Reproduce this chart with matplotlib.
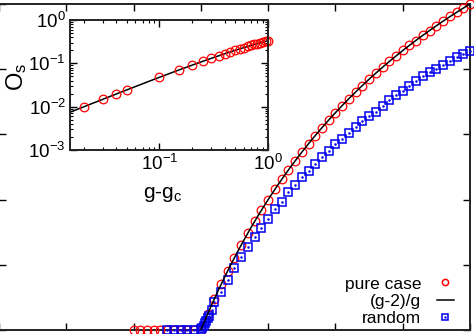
import numpy as np
import matplotlib
matplotlib.use("Agg")
import matplotlib.pyplot as plt
from matplotlib.lines import Line2D
from matplotlib.legend_handler import HandlerTuple

plt.rcParams["font.family"] = ["Liberation Sans", "DejaVu Sans"]
plt.rcParams["mathtext.fontset"] = "custom"
plt.rcParams["mathtext.rm"] = "Liberation Sans"
plt.rcParams["mathtext.it"] = "Liberation Sans:italic"

# order parameter of the pure chain
g_pure = [1.50, 1.55, 1.60, 1.65, 1.70, 1.75, 1.80, 1.85, 1.90, 1.95, 2.00,
          2.05, 2.10, 2.15, 2.20, 2.25, 2.30, 2.35, 2.40, 2.45, 2.50,
          2.55, 2.60, 2.65, 2.70, 2.75, 2.80, 2.85, 2.90, 2.95, 3.00,
          3.05, 3.10, 3.15, 3.20, 3.25, 3.30, 3.35, 3.40, 3.45, 3.50,
          3.55, 3.60, 3.65, 3.70, 3.75, 3.80, 3.85, 3.90, 3.95, 4.00]
os_pure = [0, 0, 0, 0, 0, 0, 0, 0, 0, 0, 0,
           0.024, 0.048, 0.070, 0.091, 0.111, 0.130, 0.149, 0.167, 0.184, 0.200,
           0.216, 0.231, 0.245, 0.259, 0.273, 0.286, 0.298, 0.310, 0.322, 0.333,
           0.344, 0.355, 0.365, 0.375, 0.385, 0.394, 0.403, 0.412, 0.420, 0.429,
           0.437, 0.444, 0.452, 0.459, 0.467, 0.474, 0.481, 0.487, 0.494, 0.500]

# disordered chain
g_rand = [1.75, 1.80, 1.85, 1.90, 1.95, 2.00, 2.01, 2.02, 2.03, 2.04, 2.05,
          2.06, 2.08, 2.10, 2.15, 2.20, 2.25, 2.30, 2.35, 2.40, 2.45, 2.50,
          2.55, 2.60, 2.65, 2.70, 2.75, 2.80, 2.85, 2.90, 2.95, 3.00,
          3.05, 3.10, 3.15, 3.20, 3.25, 3.30, 3.35, 3.40, 3.45, 3.50,
          3.55, 3.60, 3.65, 3.70, 3.75, 3.80, 3.85, 3.90, 3.95, 4.00]
os_rand = [0, 0, 0, 0, 0, 0.001, 0.003, 0.006, 0.010, 0.014, 0.018,
           0.022, 0.030, 0.043, 0.058, 0.077, 0.095, 0.112, 0.128, 0.143, 0.157, 0.171,
           0.185, 0.197, 0.211, 0.223, 0.234, 0.244, 0.255, 0.265, 0.274, 0.285,
           0.293, 0.302, 0.311, 0.320, 0.328, 0.335, 0.344, 0.352, 0.360, 0.366,
           0.374, 0.382, 0.389, 0.395, 0.401, 0.406, 0.412, 0.418, 0.423, 0.428]

# inset: pure case on log-log scale
dg_inset = [0.02, 0.03, 0.04, 0.05, 0.10, 0.15, 0.20, 0.25, 0.30, 0.35, 0.40,
            0.45, 0.50, 0.55, 0.60, 0.65, 0.70, 0.75, 0.80, 0.85, 0.90, 0.95, 1.00]
os_inset = [0.0099, 0.0148, 0.0196, 0.024, 0.048, 0.070, 0.091, 0.111, 0.130,
            0.149, 0.167, 0.184, 0.200, 0.216, 0.231, 0.245, 0.259, 0.273,
            0.286, 0.298, 0.310, 0.322, 0.333]

g_c = 2.0
red = "#ff0000"
blue = "#0000ee"

fig = plt.figure(figsize=(4.74, 3.34), dpi=100)
W, H = 474.0, 334.0
ax = fig.add_axes([-1 / W, 4 / H, 471 / W, 326 / H])

g_line = np.linspace(g_c, 4.0, 300)
ax.plot(g_pure, os_pure, "o", ms=6.2, mfc="none", mec=red, mew=0.9,
        clip_on=False, zorder=3)
ax.plot(g_rand, os_rand, "s", ms=5.4, mfc="none", mec=blue, mew=1.1,
        clip_on=False, zorder=4)
ax.plot(g_rand, os_rand, ".", ms=1.6, color=blue, clip_on=False, zorder=4)
ax.plot(g_line, (g_line - g_c) / g_line, "-", color="black", lw=1.1, zorder=5)

ax.set_xlim(0.5, 4.0)
ax.set_ylim(0.0, 0.5)
ax.set_xticks([0.5, 1.0, 1.5, 2.0, 2.5, 3.0, 3.5, 4.0])
ax.set_yticks([0.0, 0.1, 0.2, 0.3, 0.4, 0.5])
ax.tick_params(direction="in", top=True, right=True, length=5, width=1.0,
               labelbottom=False, labelleft=False)
for s in ax.spines.values():
    s.set_linewidth(1.4)
    s.set_color("#222222")

h_pure = Line2D([], [], ls="none", marker="o", ms=4.5, mfc="none", mec=red, mew=1.1)
h_line = Line2D([], [], ls="-", color="black", lw=1.1)
h_sq = Line2D([], [], ls="none", marker="s", ms=4.5, mfc="none", mec=blue, mew=1.1)
h_dot = Line2D([], [], ls="none", marker=".", ms=1.5, color=blue)
ax.legend([h_pure, h_line, (h_sq, h_dot)], ["pure case", "(g-2)/g", "random"],
          handler_map={tuple: HandlerTuple(ndivide=1, pad=0)},
          loc="lower right", bbox_to_anchor=(454 / W, 8 / H),
          bbox_transform=fig.transFigure, markerfirst=False, frameon=False,
          fontsize=12.5, handlelength=1.0, handletextpad=0.9, labelspacing=0.12,
          borderpad=0, borderaxespad=0)

# log-log inset
axi = fig.add_axes([70 / W, (H - 150) / H, 198 / W, 130 / H])
dg_line = np.logspace(np.log10(0.015), 0, 200)
axi.plot(dg_line, dg_line / (dg_line + g_c), "-", color="black", lw=1.1)
axi.plot(dg_inset, os_inset, "o", ms=6.2, mfc="none", mec=red, mew=0.9,
         clip_on=False)
axi.set_xscale("log")
axi.set_yscale("log")
axi.set_xlim(0.015, 1.0)
axi.set_ylim(1e-3, 1.0)
axi.tick_params(which="both", direction="in", top=True, right=True,
                labelsize=13.5, pad=3)
axi.tick_params(which="major", length=5, width=1.0)
axi.tick_params(which="minor", length=2.5, width=0.8)
for s in axi.spines.values():
    s.set_linewidth(1.4)
    s.set_color("#222222")
axi.set_ylabel(r"O$_\mathregular{s}$", fontsize=17, labelpad=0)
axi.yaxis.set_label_coords(-0.205, 0.56)
axi.set_xlabel(r"g-g$_\mathregular{c}$", fontsize=15)
axi.xaxis.set_label_coords(0.47, -0.27)

fig.savefig("out.png", dpi=100)
